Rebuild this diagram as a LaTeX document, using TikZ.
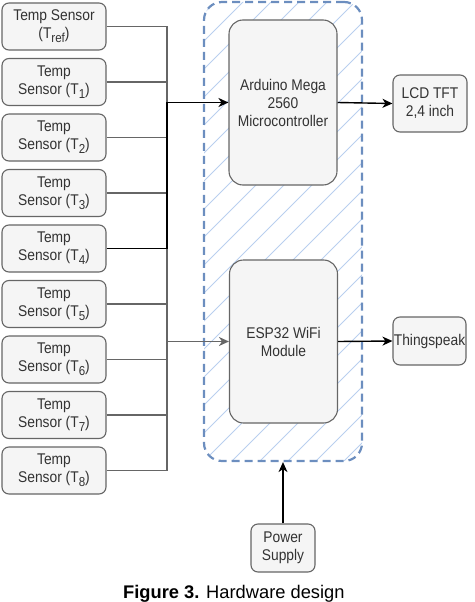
\documentclass[tikz,border=0pt]{standalone}
\usepackage{fontspec}
\setmainfont{Liberation Sans}[FakeStretch=0.89]
\newfontfamily\capfont{Liberation Sans}
\usetikzlibrary{arrows.meta}
\definecolor{boxline}{HTML}{666666}
\definecolor{boxfill}{HTML}{F5F5F5}
\definecolor{txt}{HTML}{333333}
\definecolor{boardline}{HTML}{6C8EBF}
\definecolor{hatch}{HTML}{B9CFEF}
\newcommand{\lowsub}[1]{\raisebox{-4pt}{\fontsize{13}{13}\selectfont #1}}

\begin{document}
\begin{tikzpicture}[x=1pt,y=-1pt,
	blk/.style={draw=boxline,fill=boxfill,line width=1.1pt,rounded corners=7pt,
		text=txt,align=center,inner sep=0pt,font=\fontsize{15.5}{18}\selectfont},
	sensor/.style={blk,minimum width=104pt,minimum height=47pt},
	unit/.style={blk,minimum width=108pt,rounded corners=14pt},
	board/.style={draw=boardline,line width=2.2pt,dash pattern=on 8pt off 5pt,
		rounded corners=18pt,minimum width=158pt,minimum height=459pt},
	wire/.style={draw=boxline,line width=1.1pt},
	tip/.style={-{Stealth[length=10pt,width=9pt,inset=3pt]}}]
\useasboundingbox (0,0) rectangle (474,602);

%% Placa %%
\node[board,path picture={
	\foreach \k in {-476,-448,...,180}
		\draw[hatch,solid,line width=0.8pt]
			([xshift=\k pt]path picture bounding box.south west) -- ++(520pt,520pt);
	}] (board) at (283,231.5) {};

\node[unit,minimum height=165pt] (ard) at (283,102.5) {Arduino Mega\\2560\\Microcontroller};
\node[unit,minimum height=163pt] (esp) at (283.5,341.5) {ESP32 WiFi\\Module};
\node[blk,minimum width=74pt,minimum height=57pt] (lcd) at (430,103.5) {LCD TFT\\2,4 inch};
\node[blk,minimum width=73pt,minimum height=48pt] (cloud) at (429.5,341) {Thingspeak};
\node[blk,minimum width=64pt,minimum height=48pt] (power) at (283,548) {Power\\Supply};

%% Sensores %%
\coordinate (bus) at (167,0);
\node[sensor] (s0) at (54,26.5) {Temp Sensor\\(T\lowsub{ref})};
\foreach \i in {1,...,8}
{
	\node[sensor] (s\i) at (54,26.5+55.5*\i) {Temp\\Sensor (T\lowsub{\i})};
}
\foreach \i in {0,...,8}
{
	\draw[wire] (s\i.east) -- (bus |- s\i.east);
}
\draw[wire] (bus |- s0.east) -- (bus |- s8.east);

%% Cableado %%
\draw[wire,tip,line width=1.4pt] (bus |- esp.west) -- (esp.west);
\draw[tip,line width=1.8pt] (s4.east) -| (bus |- ard.west) -- (ard.west);
\draw[tip,line width=1.4pt] (ard.east) -- (lcd.west);
\draw[tip,line width=1.4pt] (esp.east) -- (cloud.west);
\draw[tip,line width=1.4pt] (power.north) -- (board.south);

\node[anchor=north west,inner sep=0pt,font=\capfont\fontsize{18.3}{20}\selectfont] (caption)
	at (123,585) {\textbf{Figure 3.} Hardware design};
\end{tikzpicture}
\end{document}
